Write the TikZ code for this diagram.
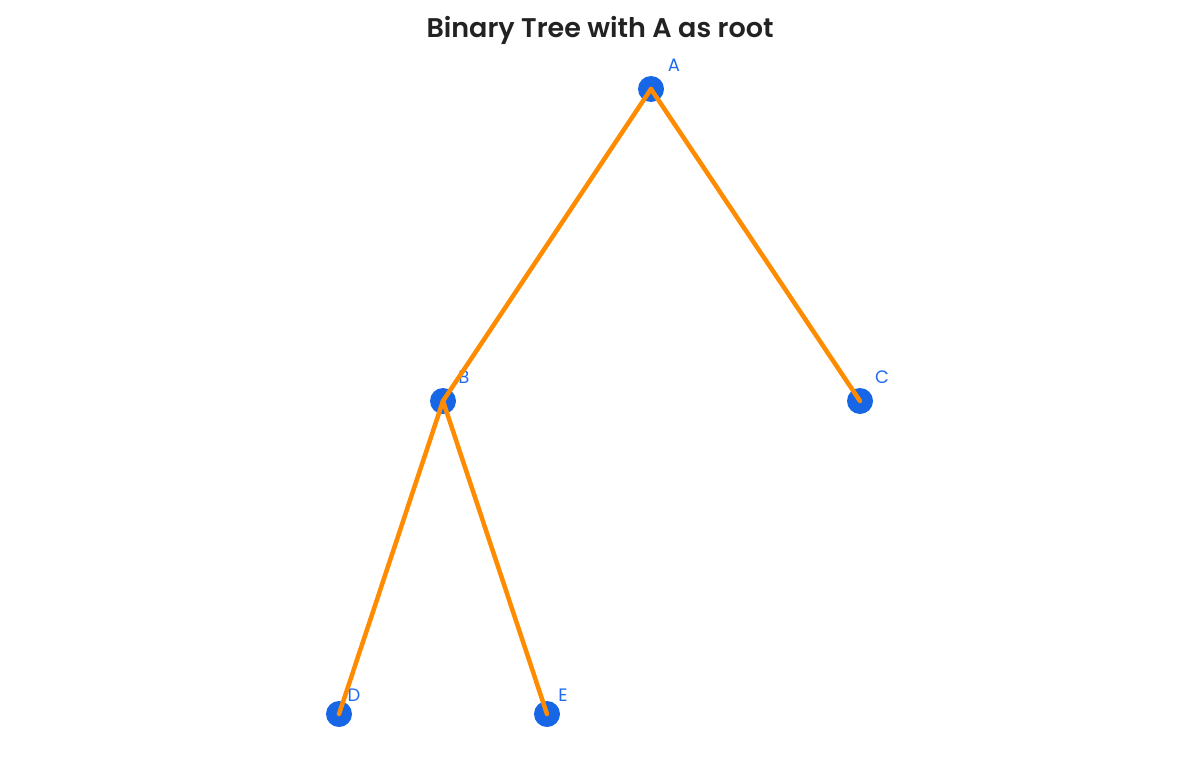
\documentclass[tikz,border=0pt]{standalone}
\usepackage{fontspec}
\setmainfont{Poppins}[BoldFont={Poppins SemiBold}]
\definecolor{nodeblue}{HTML}{1766E6}
\definecolor{labelblue}{HTML}{1F6BF0}
\definecolor{edgeorange}{HTML}{FF8C00}
\definecolor{titlegray}{HTML}{222222}
\begin{document}
\begin{tikzpicture}[x=1pt,y=-1pt,
  dot/.style={circle,fill=nodeblue,minimum size=26pt,inner sep=0pt},
  lbl/.style={text=labelblue,font=\fontsize{18}{20}\selectfont,inner sep=0pt},
  edge/.style={draw=edgeorange,line width=4.5pt,line cap=round}]
\useasboundingbox (0,0) rectangle (1200,763);
\node[font=\fontsize{27}{30}\selectfont\bfseries,text=titlegray] (title) at (600,30) {Binary Tree with A as root};
\node[dot] (A) at (651,89) {};
\node[dot] (B) at (443,401) {};
\node[dot] (C) at (860,401) {};
\node[dot] (D) at (339,714) {};
\node[dot] (E) at (547,714) {};
\node[lbl] (lA) at (674,65) {A};
\node[lbl] (lB) at (464,377) {B};
\node[lbl] (lC) at (882,377) {C};
\node[lbl] (lD) at (354,695) {D};
\node[lbl] (lE) at (563,695) {E};
\draw[edge] (A.center) -- (B.center);
\draw[edge] (A.center) -- (C.center);
\draw[edge] (B.center) -- (D.center);
\draw[edge] (B.center) -- (E.center);
\end{tikzpicture}
\end{document}
